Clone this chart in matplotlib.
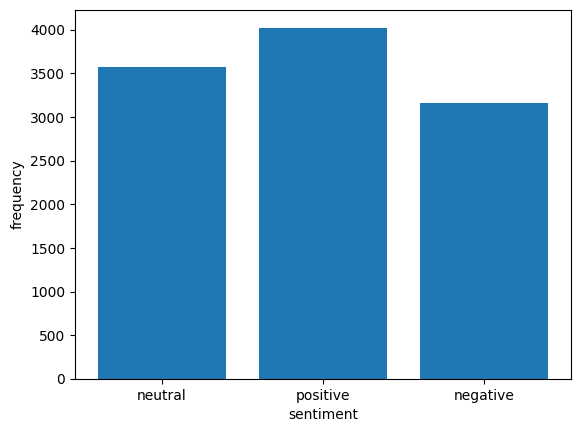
import matplotlib
matplotlib.use("Agg")
import matplotlib.pyplot as plt

sentiments = ["neutral", "positive", "negative"]
counts = [3571, 4026, 3164]

fig = plt.figure(figsize=(5.8, 4.32), dpi=100)
plt.subplots_adjust(left=75/580, right=571/580, top=1-10/432, bottom=1-379/432)
plt.bar(sentiments, counts)
plt.xlabel("sentiment")
plt.ylabel("frequency")
plt.savefig("out.png")
